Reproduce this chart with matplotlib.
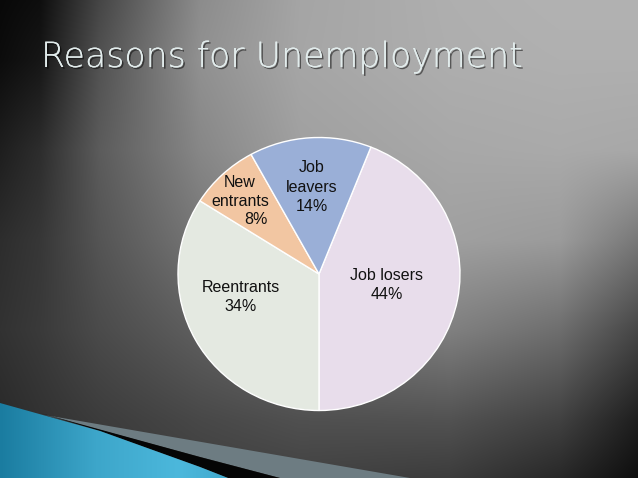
import numpy as np
import matplotlib
matplotlib.use("Agg")
import matplotlib.pyplot as plt
from matplotlib.patches import Polygon
import matplotlib.patheffects as pe

# ---- data ----
categories = ["Job losers", "Reentrants", "New entrants", "Job leavers"]
label_text = ["Job losers", "Reentrants", "New\nentrants", "Job\nleavers"]
values = [44, 34, 8, 14]
colors = ["#E8DDEB", "#E4E9E1", "#F2C6A2", "#9AAFD7"]
title = "Reasons for Unemployment"

W, H = 638, 478
fig = plt.figure(figsize=(W / 100, H / 100), dpi=100)

# ---- background (slide gradient) ----
bg = fig.add_axes([0, 0, 1, 1])
bg.axis("off")
gx = [0, 40, 100, 200, 300, 450, 560, 638]
gy = [0, 60, 150, 240, 330, 420, 478]
grid = np.array([
    [8, 14, 70, 140, 165, 175, 178, 178],
    [12, 22, 82, 145, 166, 174, 176, 176],
    [30, 45, 92, 135, 160, 168, 170, 168],
    [45, 55, 85, 118, 145, 160, 155, 120],
    [50, 58, 75, 95, 112, 128, 110, 70],
    [42, 50, 60, 72, 80, 82, 65, 30],
    [38, 45, 55, 62, 66, 60, 40, 14],
], dtype=float)
X = np.arange(W) + 0.5
Y = np.arange(H) + 0.5
tmp = np.array([np.interp(X, gx, row) for row in grid])
img = np.array([np.interp(Y, gy, tmp[:, j]) for j in range(W)]).T / 255.0
bg.imshow(np.dstack([img, img, img]), extent=[0, W, H, 0], aspect="auto",
          interpolation="bilinear", zorder=0)

# bottom-left swoosh
gray_poly = Polygon([(45, 415), (410, 478), (280, 478), (200, 457), (45, 415)],
                    closed=True, facecolor="#6d7c82", edgecolor="none", zorder=2)
bg.add_patch(gray_poly)
black_poly = Polygon([(40, 413), (200, 457), (280, 478), (228, 478), (200, 467),
                      (100, 431), (40, 413)], closed=True,
                     facecolor="#050505", edgecolor="none", zorder=2)
bg.add_patch(black_poly)
blue_poly = Polygon([(0, 403), (100, 431), (200, 467), (228, 478), (0, 478)],
                    closed=True, facecolor="none", edgecolor="none", zorder=3)
bg.add_patch(blue_poly)
bx = np.linspace(0, 1, 240)
bcol = np.interp(bx, [0, 0.4, 0.75, 1.0], [0, 0.7, 1.0, 0.7])
c0 = np.array([0x1a, 0x7c, 0xa0]) / 255
c1 = np.array([0x4c, 0xb8, 0xdc]) / 255
blue_img = c0[None, None, :] + (c1 - c0)[None, None, :] * bcol[None, :, None]
blue_img = np.repeat(blue_img, 20, axis=0)
bi = bg.imshow(blue_img, extent=[0, 240, 478, 400], aspect="auto", zorder=3)
bi.set_clip_path(blue_poly)
bg.set_xlim(0, W)
bg.set_ylim(H, 0)

# ---- title ----
t = fig.text(41 / W, 1 - 67 / H, title, fontsize=25, family="DejaVu Sans",
             fontweight="light", color="#E2ECEC", ha="left", va="baseline", zorder=5,
             path_effects=[pe.withSimplePatchShadow(offset=(1.2, -1.2),
                                                    shadow_rgbFace="black", alpha=0.5),
                           pe.Normal()])
fig.canvas.draw()
bb = t.get_window_extent()
t.set_fontsize(25 * 482 / bb.width)

# ---- pie ----
cx, cy, rx, ry = 319, 274, 141, 136.5
ax = fig.add_axes([(cx - rx) / W, 1 - (cy + ry) / H, 2 * rx / W, 2 * ry / H])
ax.patch.set_alpha(0)
wedges, _ = ax.pie(values, colors=colors, startangle=360 * values[0] / 100 - 90,
                   counterclock=False,
                   wedgeprops=dict(edgecolor="white", linewidth=1.0))
ax.set_aspect("auto")
ax.set_xlim(-1, 1)
ax.set_ylim(-1, 1)
ax.axis("off")

# label positions (pixel centres of the text blocks)
label_pos = {
    "Job losers": (387, 285),
    "Reentrants": (241, 297),
    "New entrants": (240, 192),
    "Job leavers": (312, 187),
}
lab_font = dict(family="Liberation Sans", fontsize=11.5, color="#111111")
for cat, lt, v in zip(categories, label_text, values):
    px, py = label_pos[cat]
    if cat == "New entrants":
        fig.text(px / W, 1 - py / H, lt, ha="center", va="center",
                 multialignment="center", linespacing=1.4, **lab_font)
        fig.text(256 / W, 1 - 220 / H, f"{v}%", ha="center", va="center", **lab_font)
    else:
        fig.text(px / W, 1 - py / H, f"{lt}\n{v}%", ha="center", va="center",
                 multialignment="center", linespacing=1.4, **lab_font)

fig.savefig("out.png", dpi=100)
